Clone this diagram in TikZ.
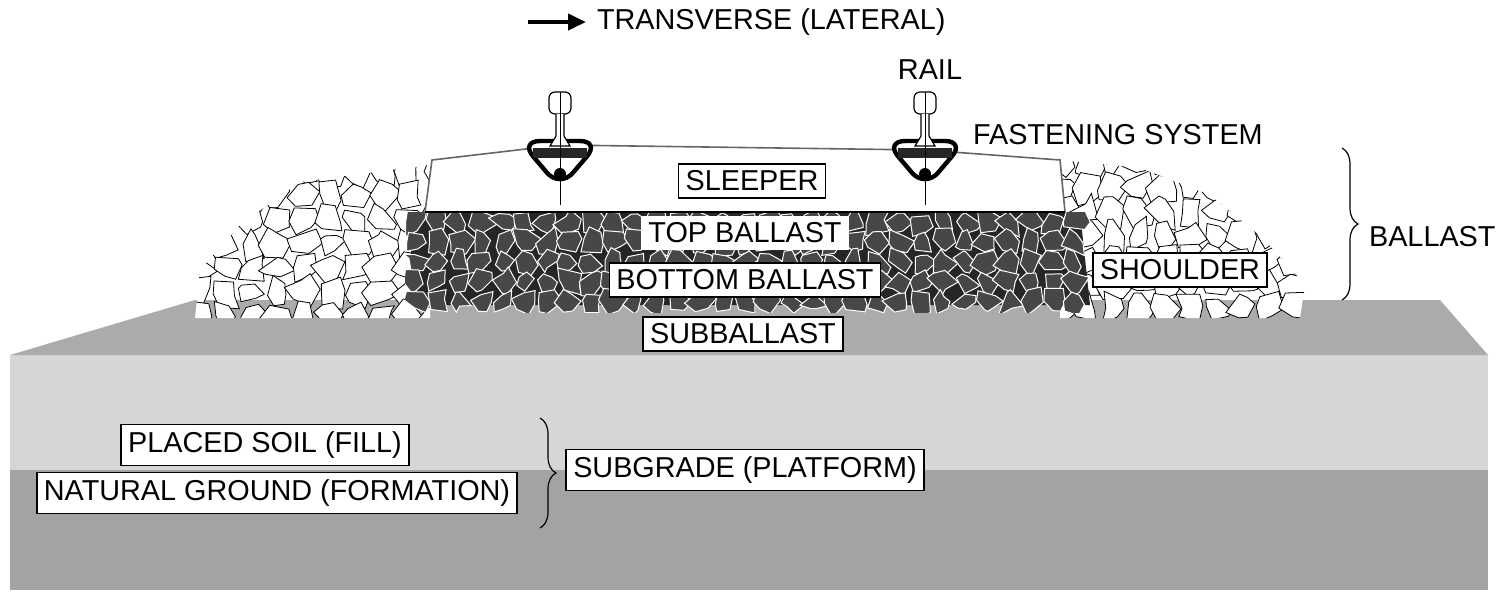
\documentclass[tikz,border=0pt]{standalone}
\usepackage{fontspec}
\setmainfont{Liberation Sans}
\usetikzlibrary{decorations.pathreplacing,arrows.meta}
\definecolor{subb}{HTML}{ABABAB}
\definecolor{fill1}{HTML}{D6D6D6}
\definecolor{nat}{HTML}{A3A3A3}
\newcommand\mystone[4]{\draw[#1] ({#2+#4*(0.8+0.3*rnd)*cos(10*rand)},{#3+#4*(0.8+0.3*rnd)*sin(10*rand)})
 -- ({#2+#4*(0.8+0.3*rnd)*cos(60+10*rand)},{#3+#4*(0.8+0.3*rnd)*sin(60+10*rand)})
 -- ({#2+#4*(0.8+0.3*rnd)*cos(120+10*rand)},{#3+#4*(0.8+0.3*rnd)*sin(120+10*rand)})
 -- ({#2+#4*(0.8+0.3*rnd)*cos(180+10*rand)},{#3+#4*(0.8+0.3*rnd)*sin(180+10*rand)})
 -- ({#2+#4*(0.8+0.3*rnd)*cos(240+10*rand)},{#3+#4*(0.8+0.3*rnd)*sin(240+10*rand)})
 -- ({#2+#4*(0.8+0.3*rnd)*cos(300+10*rand)},{#3+#4*(0.8+0.3*rnd)*sin(300+10*rand)}) -- cycle;}
\newcommand\myrail[1]{%
 \draw[fill=white,line width=2.2pt,rounded corners=10pt] (#1-40,141) -- (#1+40,141) -- (#1,188) -- cycle;
 \draw[fill=white,line width=0.6pt,rounded corners=3pt] (#1-11,92) rectangle (#1+11,114);
 \draw[fill=white,line width=0.6pt] (#1-4,114) -- (#1-4,136) -- (#1-10,146) -- (#1+10,146) -- (#1+4,136) -- (#1+4,114);
 \fill[black!85] (#1-27,148) rectangle (#1+27,158);
 \fill[black] (#1,174) circle (6);
 \draw[line width=0.5pt] (#1,92) -- (#1,205);
}
\tikzset{lab/.style={draw,fill=white,line width=0.8pt,inner sep=3.5pt,font=\fontsize{14.4}{16}\selectfont},
 txt/.style={font=\fontsize{14.4}{16}\selectfont},
 wst/.style={fill=white,draw=black,line width=0.4pt},
 dst/.style={fill=black!72,draw=white,line width=0.5pt}}
\begin{document}
\begin{tikzpicture}[x=0.5pt,y=-0.5pt]
\useasboundingbox (0,0) rectangle (1500,596);
\pgfmathsetseed{7}
% ground
\fill[nat] (10,470) rectangle (1488,590);
\fill[fill1] (10,355) rectangle (1488,470);
\fill[subb] (10,355) -- (195,300) -- (1440,300) -- (1488,355) -- cycle;
% white shoulders
\begin{scope}
\clip (195,318) -- (200,270) -- (240,225) -- (300,182) -- (430,165) -- (430,318) -- cycle;
\foreach \cx in {200,226,...,440} \foreach \cy in {172,196,...,320} {\mystone{wst}{\cx+6*rand}{\cy+5*rand}{15}}
\end{scope}
\begin{scope}
\clip (1060,318) -- (1060,160) -- (1140,168) -- (1210,195) -- (1265,240) -- (1305,285) -- (1300,318) -- cycle;
\foreach \cx in {1060,1086,...,1310} \foreach \cy in {164,188,...,320} {\mystone{wst}{\cx+6*rand}{\cy+5*rand}{15}}
\end{scope}
% dark ballast
\fill[black!85] (412,212) -- (1080,212) -- (1090,305) -- (410,305) -- cycle;
\begin{scope}
\clip (405,212) rectangle (1095,312);
\foreach \cx in {415,437,...,1090} \foreach \cy in {222,242,...,310} {\mystone{dst}{\cx+5*rand}{\cy+4*rand}{12}}
\end{scope}
% sleeper
\draw[fill=white,draw=black!60,line width=0.8pt] (432,160) -- (560,145) -- (925,150) -- (1060,160) -- (1065,212) -- (425,212) -- cycle;
\draw[line width=1pt] (425,212) -- (1065,212);
\myrail{560}
\myrail{925}
% labels
\coordinate (a1) at (528,22); \coordinate (a2) at (586,22);
\draw[-{Triangle[length=9pt,width=8pt]},line width=2pt] (a1) -- (a2);
\node[anchor=west,txt] (tr) at (590,22) {TRANSVERSE (LATERAL)};
\node[txt] (rail) at (930,70) {RAIL};
\node[anchor=west,txt] (fs) at (966,135) {FASTENING SYSTEM};
\node[lab] (sl) at (752,181) {SLEEPER};
\node[lab,draw=none] (tb) at (745,233) {TOP BALLAST};
\node[lab] (bb) at (745,280) {BOTTOM BALLAST};
\node[lab] (sh) at (1180,270) {SHOULDER};
\node[lab] (sb) at (743,334) {SUBBALLAST};
\node[anchor=west,txt] (bl) at (1362,237) {BALLAST};
\coordinate (b1) at (1342,148); \coordinate (b2) at (1342,300);
\draw[decorate,decoration={brace,amplitude=8pt},line width=0.6pt] (b1) -- (b2);
\node[lab] (ps) at (265,445) {PLACED SOIL (FILL)};
\node[lab] (ng) at (277,493) {NATURAL GROUND (FORMATION)};
\node[lab] (sg) at (745,470) {SUBGRADE (PLATFORM)};
\coordinate (c1) at (540,418); \coordinate (c2) at (540,528);
\draw[decorate,decoration={brace,amplitude=8pt},line width=0.6pt] (c1) -- (c2);
\end{tikzpicture}
\end{document}
